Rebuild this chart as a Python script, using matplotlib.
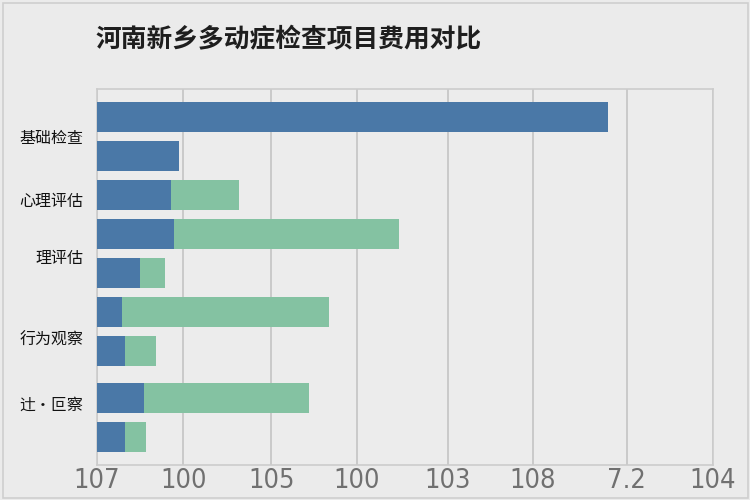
import matplotlib
matplotlib.use('Agg')
import matplotlib.pyplot as plt
from matplotlib.patches import Rectangle
import numpy as np

plt.rcParams['font.family'] = ['Noto Sans CJK SC', 'DejaVu Sans']

# 数据（按网格单位读取）
title = '河南新乡多动症检查项目费用对比'
categories = ['基础检查', '心理评估', '理评估', '行为观察', '辻·叵察']
blue_vals = [5.81, 0.93, 0.84, 0.875, 0.49, 0.28, 0.32, 0.53, 0.32]
green_vals = [0.0, 0.0, 0.77, 2.56, 0.28, 2.36, 0.35, 1.88, 0.24]
tick_labels = ['107', '100', '105', '100', '103', '108', '7.2', '104']

blue_c = '#4a78a7'
green_c = '#84c2a2'

# 布局
bar_pos = np.arange(len(blue_vals)) + np.array([0, 0, 0, 0, 0, 0, 0, 0.19, 0.19])
cat_pos = [0.5, 2.11, 3.57, 5.67, 7.34]
grid_pos = [0, 0.98, 1.98, 2.95, 3.99, 4.95, 6.02, 7]

fig = plt.figure(figsize=(7.5, 5), dpi=100, facecolor='#ebebeb')
fig.patches.append(Rectangle((0.004, 0.004), 0.993, 0.99, transform=fig.transFigure,
                             fill=False, edgecolor='#cfcfcf', linewidth=1.2))
ax = fig.add_axes([97 / 750, 35 / 500, 616 / 750, 376 / 500])
ax.set_facecolor('#ececec')

ax.barh(bar_pos, blue_vals, height=0.77, color=blue_c, zorder=3)
ax.barh(bar_pos, green_vals, left=blue_vals, height=0.77, color=green_c, zorder=3)

ax.set_xlim(0, 7)
ax.set_ylim(8.91, -0.705)
ax.set_xticks(grid_pos)
ax.set_xticklabels(tick_labels, fontsize=19.5, color='#707070',
                   family=['DejaVu Sans'], fontstretch='condensed')
ax.set_yticks(cat_pos)
ax.set_yticklabels(categories, fontsize=11.5, color='#111111', fontweight='medium')
ax.tick_params(axis='both', length=0)
ax.tick_params(axis='x', pad=2)
ax.tick_params(axis='y', pad=10)
ax.grid(axis='x', color='#c4c4c4', linewidth=1.2, zorder=1)
for s in ax.spines.values():
    s.set_color('#cccccc')
    s.set_linewidth(1.2)

fig.text(95 / 750, 1 - 40 / 500, title, fontsize=18.5, color='#1e1e1e',
         va='center', ha='left', fontweight='bold')

fig.savefig('out.png', dpi=100, facecolor=fig.get_facecolor())
